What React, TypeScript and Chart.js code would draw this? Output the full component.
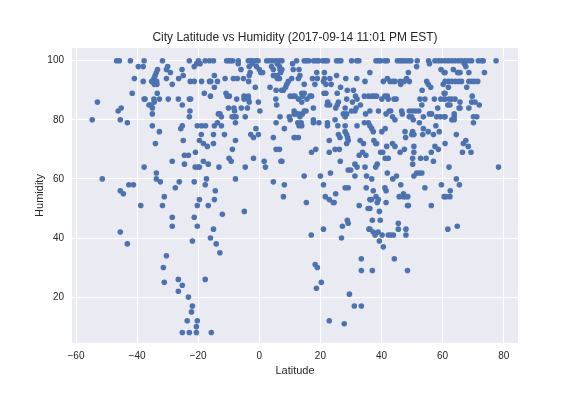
import { useEffect, useRef } from "react";
import { Chart, registerables } from "chart.js";

Chart.register(...registerables);

const chartTitle = "City Latitude vs Humidity (2017-09-14 11:01 PM EST)";
const xAxisLabel = "Latitude";
const yAxisLabel = "Humidity";
const xTicks = [-60, -40, -20, 0, 20, 40, 60, 80];
const yTicks = [20, 40, 60, 80, 100];

const latitude = [
  -46.7,-45.8,-42.2,-37.7,-39.6,-38.0,-40.9,-38.0,-41.6,-37.7,
  -53.0,-45.2,-46.2,-54.7,-45.5,-43.2,-37.7,-51.4,-42.7,-41.2,
  -45.5,-44.5,-38.8,-45.5,-43.2,
  -31.7,-22.9,-21.3,-20.5,-19.9,-19.4,-17.7,-16.3,-15.0,
  -33.3,-33.7,-34.1,-34.5,-30.0,-30.4,-29.1,-30.4,-25.3,-24.9,-26.4,
  -35.2,-34.4,-33.6,-34.4,-33.5,-28.5,-22.6,-21.3,-18.9,-16.3,-15.9,-13.7,
  -14.7,-14.7,-18.0,-16.0,-33.4,-37.4,-34.5,-32.7,-29.8,-26.5,-22.9,-22.5,
  -34.4,-36.1,-35.4,-35.0,-25.2,-22.7,-35.0,-22.9,-13.4,-35.0,-32.7,-34.0,
  -25.2,-25.7,-20.3,-18.9,-17.6,-14.7,-13.7,-19.0,-15.0,-24.9,-19.6,-18.3,-17.0,-15.0,
  -24.5,-23.2,-20.9,-28.5,-24.5,-21.0,-20.0,-19.6,-18.3,-16.7,-13.2,
  -33.7,-33.7,-32.4,-26.2,-21.3,-17.3,-17.7,-27.5,-14.4,
  -31.1,-19.6,-14.7,-31.7,-20.3,-16.7,-28.5,-21.3,-28.5,-20.3,-15.0,
  -21.9,-16.0,-14.1,-12.9,-30.4,-31.4,-31.1,-26.5,-25.2,-26.5,-17.7,
  -23.2,-21.9,-22.2,-23.6,-20.3,-20.6,-25.2,-22.9,-20.6,-15.7,
  -10.7,-10.0,-9.4,-8.7,-6.9,-6.9,-3.6,-2.8,-2.2,-1.1,-0.4,-3.3,-2.2,-0.9,0.0,0.5,1.1,-6.0,
  2.4,3.4,4.4,5.5,6.6,7.4,4.0,4.6,5.9,6.6,6.8,
  4.6,5.1,5.9,6.6,5.9,7.0,7.4,10.9,11.1,
  -3.0,-3.3,-11.2,-8.5,-7.2,-5.2,-3.5,10.6,
  9.0,9.5,8.6,7.9,7.3,5.5,3.5,-1.3,10.1,11.1,
  -10.9,-10.5,-9.8,-7.4,-5.0,-3.6,-5.0,-3.6,-3.3,-0.3,5.4,5.7,
  -10.1,-8.3,-8.1,-5.9,-3.9,0.2,
  -8.2,-8.9,-7.6,-4.6,-12.4,-12.9,6.8,9.8,10.1,11.4,11.4,
  -7.8,-12.4,5.5,8.2,-1.1,-11.4,-2.8,-1.9,-0.3,4.6,11.4,
  -7.8,-8.8,5.5,6.6,-9.9,-9.2,-1.9,1.6,2.0,7.1,7.4,-4.6,-7.8,4.6,8.2,
  -12.1,-4.9,7.9,
  12.2,14.7,15.4,16.2,17.8,18.6,19.4,20.8,21.6,22.3,25.3,26.0,26.7,30.2,31.9,32.6,
  13.0,13.3,12.8,18.8,21.3,17.4,19.0,21.3,23.1,25.3,
  14.7,18.2,21.0,21.8,23.5,28.3,31.9,34.6,
  26.6,28.8,30.8,21.2,21.8,25.5,
  11.7,14.1,13.9,14.7,16.6,17.1,15.6,12.8,13.9,
  28.6,31.5,32.0,34.4,35.7,
  22.4,22.2,23.0,25.9,25.5,25.0,30.5,33.1,
  28.1,30.2,31.3,31.7,17.7,
  14.7,15.3,14.1,12.8,12.1,13.3,
  27.5,28.1,28.6,24.8,34.8,
  17.7,17.7,19.5,12.6,13.7,13.9,13.0,
  22.3,22.3,25.7,28.1,32.0,34.4,35.7,
  11.7,12.8,25.9,26.4,28.1,28.6,28.9,29.1,28.6,
  22.9,33.0,34.1,18.5,17.1,22.9,24.8,26.2,
  32.7,33.8,34.9,26.5,31.3,32.0,34.6,29.1,29.9,23.3,
  14.7,20.0,31.3,35.1,21.0,28.1,29.1,35.0,25.0,
  15.4,21.6,22.9,24.2,24.5,32.7,35.6,36.2,28.8,29.1,27.2,21.0,17.0,
  26.9,35.9,33.4,33.4,18.3,19.0,20.3,18.7,29.5,31.1,33.4,22.9,27.8,
  38.2,39.0,39.7,41.1,41.9,45.2,46.1,46.9,47.8,48.8,49.6,51.7,55.4,55.7,57.5,58.6,59.7,
  51.5,59.5,60.5,48.8,36.2,
  40.6,41.9,42.8,43.7,44.4,46.1,46.3,47.4,48.2,49.1,
  54.8,55.3,56.1,53.3,60.2,60.5,
  36.8,37.6,38.4,40.1,41.1,41.9,42.2,44.1,44.8,
  52.6,53.2,54.2,57.3,59.4,60.5,58.4,
  36.2,39.0,41.5,42.5,43.0,46.6,46.8,49.1,50.1,51.2,52.2,
  55.7,56.4,58.1,59.2,60.5,43.6,44.4,49.1,49.9,50.4,53.7,52.4,
  36.2,37.3,36.8,41.2,40.1,57.8,
  47.7,50.2,50.6,49.9,53.7,53.5,55.3,57.0,58.9,47.9,
  37.5,38.1,38.4,41.7,43.6,44.4,50.6,57.5,58.6,47.5,46.1,
  39.7,40.4,50.6,56.3,41.2,42.2,50.2,52.8,54.6,57.0,
  38.1,38.6,50.2,41.9,51.5,52.4,53.2,50.6,44.9,43.7,36.8,
  46.3,54.2,59.6,41.1,41.5,37.3,47.2,
  38.2,39.0,36.7,38.6,41.5,45.8,47.1,47.8,48.6,48.5,48.8,56.3,60.5,
  39.3,36.2,37.0,39.6,45.5,45.5,36.2,37.3,38.9,37.9,40.2,
  42.2,43.0,43.9,48.0,48.0,39.3,40.6,44.2,37.0,48.5,
  60.8,61.9,63.0,64.1,65.2,66.2,67.3,68.4,69.5,71.7,72.8,73.3,77.5,
  67.1,67.6,63.5,64.9,65.7,65.2,68.6,73.7,60.8,
  60.8,61.9,63.0,64.1,65.2,66.2,68.6,69.5,70.4,71.5,
  61.9,67.9,60.8,69.7,
  60.8,62.1,63.0,64.1,61.7,62.4,65.7,65.4,65.7,
  69.5,70.6,72.0,68.6,
  60.8,63.0,63.8,63.8,63.8,70.1,71.2,70.1,
  64.5,60.8,67.6,66.8,68.4,66.5,69.3,62.1,78.3,64.5,65.5,62.5,
  61.1,62.4,61.7,64.8,
];

const humidity = [
  100,100,100,100,98,98,94,93,89,87,
  86,84,83,80,80,79,64,60,58,58,
  56,55,51,42,38,
  100,100,98,99,100,99,100,100,100,
  97,96,95,94,98,97,96,94,97,95,94,
  93,93,93,92,92,92,93,93,93,93,93,93,
  95,91,89,88,89,87,87,87,87,87,87,87,
  86,85,85,84,85,83,82,81,82,78,76,72,
  78,77,78,78,78,78,79,75,75,73,73,72,71,72,
  68,68,69,66,65,64,64,64,66,65,64,
  62,60,59,59,59,60,58,57,56,
  54,53,53,51,51,51,47,47,44,44,43,
  39,40,38,35,34,30,25,26,24,22,26,
  20,17,15,12,12,10,8,8,8,8,
  100,100,100,100,100,99,100,100,100,100,100,98,99,98,97,96,96,97,
  100,100,100,100,100,100,98,97,99,98,97,
  95,95,94,94,95,96,97,99,97,
  96,95,94,94,94,94,93,94,
  92,93,91,90,90,90,91,91,88,88,
  89,88,88,87,88,88,87,87,86,86,87,85,
  84,84,83,84,84,83,
  81,81,81,81,81,82,81,81,80,83,82,
  79,78,79,77,77,75,75,74,75,74,74,
  73,70,70,70,67,66,67,66,64,66,66,64,60,59,58,
  48,49,54,
  100,100,100,100,100,100,100,100,100,100,100,100,100,100,100,100,
  97,95,94,96,96,94,94,94,94,95,
  92,92,93,92,92,94,94,93,
  91,90,90,89,89,89,
  88,88,89,89,88,88,87,87,86,
  87,88,87,88,88,
  86,85,85,86,85,84,86,85,
  84,83,83,84,84,
  83,83,82,82,82,81,
  82,81,82,80,82,
  80,79,79,79,79,78,78,
  79,78,78,78,78,79,79,
  74,74,75,74,76,75,74,73,72,
  73,73,72,70,69,69,70,70,
  68,69,68,66,65,64,64,63,63,62,
  61,61,61,61,58,57,57,57,55,
  52,54,53,52,52,51,50,53,46,45,44,43,41,
  40,43,33,29,31,30,25,23,21,17,17,12,11,
  100,100,100,100,100,100,100,100,100,100,100,100,100,99,100,100,100,
  98,97,96,96,96,
  93,94,93,93,93,93,92,93,94,93,
  93,92,91,90,92,89,
  88,88,88,87,88,88,87,87,87,
  87,85,87,87,87,87,84,
  83,83,82,83,83,83,82,83,83,83,83,
  82,82,81,81,81,81,80,81,81,80,81,79,
  78,76,77,77,76,78,
  76,76,75,75,77,75,76,75,76,74,
  73,72,72,71,72,71,71,71,70,70,69,
  69,69,69,69,67,67,67,67,67,66,
  64,65,65,62,62,62,62,61,61,60,60,
  58,57,58,57,56,56,55,
  54,53,53,52,52,54,54,54,54,51,51,51,54,
  49,50,46,46,45,43,43,42,42,41,41,
  41,41,41,43,41,39,37,33,29,29,
  100,100,100,100,100,100,100,100,100,100,100,100,100,
  99,98,97,96,96,96,96,96,96,
  93,93,93,93,93,93,93,93,93,93,
  91,91,89,88,
  87,87,87,87,85,85,86,84,84,
  86,86,85,84,
  81,80,82,81,80,81,81,79,
  75,72,73,72,71,69,69,64,64,60,58,56,
  54,54,43,44,
];

const FONT = '"Liberation Sans", Arial, "DejaVu Sans", sans-serif';
const TEXT = "#262626";

function fmt(v: number) {
  return v < 0 ? "\u2212" + Math.abs(v) : String(v);
}

export default function App() {
  const ref = useRef<HTMLCanvasElement | null>(null);

  useEffect(() => {
    if (!ref.current) return;
    const n = Math.min(latitude.length, humidity.length);
    const pts = [];
    for (let i = 0; i < n; i++) pts.push({ x: latitude[i], y: humidity[i] });

    const decor = {
      id: "decor",
      beforeDraw(chart: any) {
        const { ctx, chartArea: a } = chart;
        ctx.save();
        ctx.fillStyle = "#FFFFFF";
        ctx.fillRect(0, 0, chart.width, chart.height);
        ctx.fillStyle = "#EAEAF2";
        ctx.fillRect(a.left, a.top, a.right - a.left, a.bottom - a.top);
        ctx.restore();
      },
      afterDraw(chart: any) {
        const { ctx, chartArea: a } = chart;
        const cx = (a.left + a.right) / 2;
        const cy = (a.top + a.bottom) / 2;
        ctx.save();
        ctx.fillStyle = TEXT;
        ctx.textAlign = "center";
        ctx.textBaseline = "middle";
        ctx.font = `12px ${FONT}`;
        ctx.fillText(chartTitle, cx, 38);
        ctx.font = `11px ${FONT}`;
        ctx.fillText(xAxisLabel, cx, 371);
        ctx.translate(40, cy);
        ctx.rotate(-Math.PI / 2);
        ctx.fillText(yAxisLabel, 0, 0);
        ctx.restore();
      },
    };

    const chart = new Chart(ref.current, {
      type: "scatter",
      data: {
        datasets: [
          {
            data: pts,
            backgroundColor: "#4C72B0",
            borderWidth: 0,
            pointRadius: 2.8,
            pointHoverRadius: 2.8,
          },
        ],
      },
      options: {
        responsive: false,
        animation: false,
        devicePixelRatio: 1,
        events: [],
        layout: { padding: { left: 0, top: 48, right: 58, bottom: 0 } },
        plugins: {
          legend: { display: false },
          tooltip: { enabled: false },
          title: { display: false },
        },
        scales: {
          x: {
            type: "linear",
            min: -61.31,
            max: 84.68,
            afterBuildTicks: (s: any) => {
              s.ticks = xTicks.map((v) => ({ value: v }));
            },
            afterFit: (s: any) => {
              s.height = 53;
            },
            grid: { color: "#FFFFFF", lineWidth: 1, drawTicks: false },
            border: { display: false },
            ticks: {
              color: TEXT,
              font: { family: FONT, size: 10 },
              padding: 7,
              maxRotation: 0,
              autoSkip: false,
              callback: (v: any) => fmt(Number(v)),
            },
          },
          y: {
            type: "linear",
            min: 4.47,
            max: 104.3,
            afterBuildTicks: (s: any) => {
              s.ticks = yTicks.map((v) => ({ value: v }));
            },
            afterFit: (s: any) => {
              s.width = 72;
            },
            grid: { color: "#FFFFFF", lineWidth: 1, drawTicks: false },
            border: { display: false },
            ticks: {
              color: TEXT,
              font: { family: FONT, size: 10 },
              padding: 8,
              autoSkip: false,
              callback: (v: any) => fmt(Number(v)),
            },
          },
        },
      },
      plugins: [decor],
    });
    return () => chart.destroy();
  }, []);

  return (
    <canvas
      ref={ref}
      width={576}
      height={396}
      style={{ position: "absolute", left: 0, top: 0, width: 576, height: 396 }}
    />
  );
}
